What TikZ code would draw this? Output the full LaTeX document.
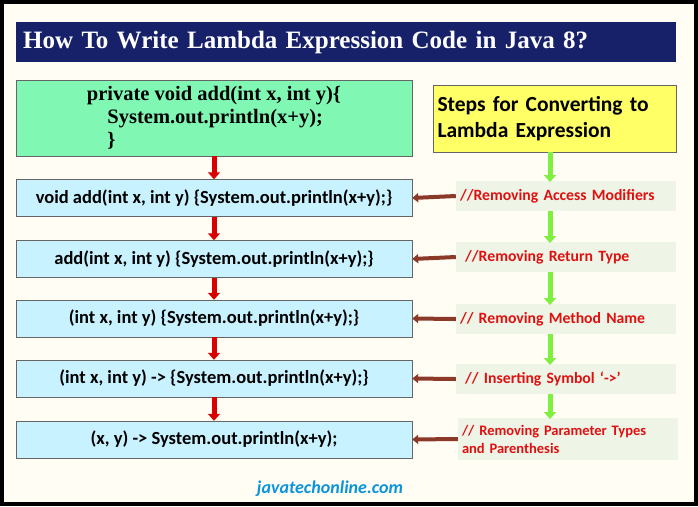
\documentclass[tikz,border=0pt]{standalone}
\usepackage{fontspec}
\setmainfont{Liberation Serif}
\newfontfamily\carl{Carlito}
\usetikzlibrary{arrows.meta}
\definecolor{navy}{HTML}{16216A}
\definecolor{mint}{HTML}{80F8B4}
\definecolor{yel}{HTML}{FFFF66}
\definecolor{cy}{HTML}{C8F2FF}
\definecolor{pale}{HTML}{EEF4E6}
\definecolor{redt}{HTML}{E01010}
\definecolor{brn}{HTML}{8B3A2A}
\definecolor{grn}{HTML}{80F040}
\definecolor{cream}{HTML}{FFFDF4}
\begin{document}
\begin{tikzpicture}[x=1pt,y=-1pt,
 codebox/.style={draw=black!60,fill=cy,minimum width=396pt,minimum height=37pt,font=\carl\bfseries\fontsize{18.5}{20}\selectfont},
 steplbl/.style={fill=pale,minimum width=220pt,minimum height=30pt,text=redt,font=\carl\bfseries\fontsize{15.7}{18}\selectfont,align=left,text width=212pt},
 redarr/.style={-{Triangle[width=12pt,length=7pt]},line width=5pt,red!85!black},
 grnarr/.style={-{Triangle[width=12pt,length=7pt]},line width=5pt,grn},
 brnarr/.style={-{Triangle[width=9pt,length=6pt]},line width=4pt,brn}]
\useasboundingbox (0,0) rectangle (698,506);
\fill[black] (0,0) rectangle (698,506);
\fill[cream] (4,4) rectangle (694,502);
\node[fill=navy,minimum width=660pt,minimum height=40pt,text=white,font=\bfseries\fontsize{25}{28}\selectfont,anchor=west,inner sep=0pt,text width=660pt,align=left] (title) at (16,42) {\hspace{7pt}How To Write Lambda Expression Code in Java 8?};
\node[draw=black!60,fill=mint,minimum width=396pt,minimum height=76pt,font=\bfseries\fontsize{20.5}{23}\selectfont,align=left] (src) at (214,118) {private void add(int x, int y)\{\\\quad System.out.println(x+y);\\\quad\}};
\node[draw=black!60,fill=yel,minimum width=243pt,minimum height=67pt,font=\carl\bfseries\fontsize{21.5}{26}\selectfont,align=left,text width=234pt] (hdr) at (554.5,118.5) {Steps for Converting to\\Lambda Expression};
\node[codebox] (c1) at (214,198) {void add(int x, int y) \{System.out.println(x+y);\}};
\node[codebox] (c2) at (214,259) {add(int x, int y) \{System.out.println(x+y);\}};
\node[codebox] (c3) at (214,318.5) {(int x, int y) \{System.out.println(x+y);\}};
\node[codebox] (c4) at (214,378.5) {(int x, int y) -> \{System.out.println(x+y);\}};
\node[codebox] (c5) at (214,439.5) {(x, y) -> System.out.println(x+y);};
\node[steplbl] (s1) at (566,196) {//Removing Access Modifiers};
\node[steplbl] (s2) at (566,257) {\ //Removing Return Type};
\node[steplbl] (s3) at (566,319) {// Removing Method Name};
\node[steplbl] (s4) at (566,379) {\ // Inserting Symbol ‘->’};
\node[steplbl,minimum height=42pt,font=\carl\bfseries\fontsize{14.5}{18}\selectfont] (s5) at (568,439) {// Removing Parameter Types\\and Parenthesis};
\foreach \a/\b in {src/c1,c1/c2,c2/c3,c3/c4,c4/c5} \draw[redarr] (\a.south) -- (\b.north);
\draw[grnarr] (hdr.south -| 550,0) -- (550,182);
\draw[grnarr] (s1.south -| 550,0) -- (550,243);
\draw[grnarr] (s2.south -| 550,0) -- (550,305);
\draw[grnarr] (s3.south -| 550,0) -- (550,365);
\draw[grnarr] (s4.south -| 550,0) -- (550,419);
\foreach \i in {1,...,5} \draw[brnarr] (s\i.west) -- (c\i.east);
\node[font=\carl\bfseries\itshape\fontsize{18}{20}\selectfont,text=cyan!80!blue] (ft) at (330,489) {javatechonline.com};
\end{tikzpicture}
\end{document}
